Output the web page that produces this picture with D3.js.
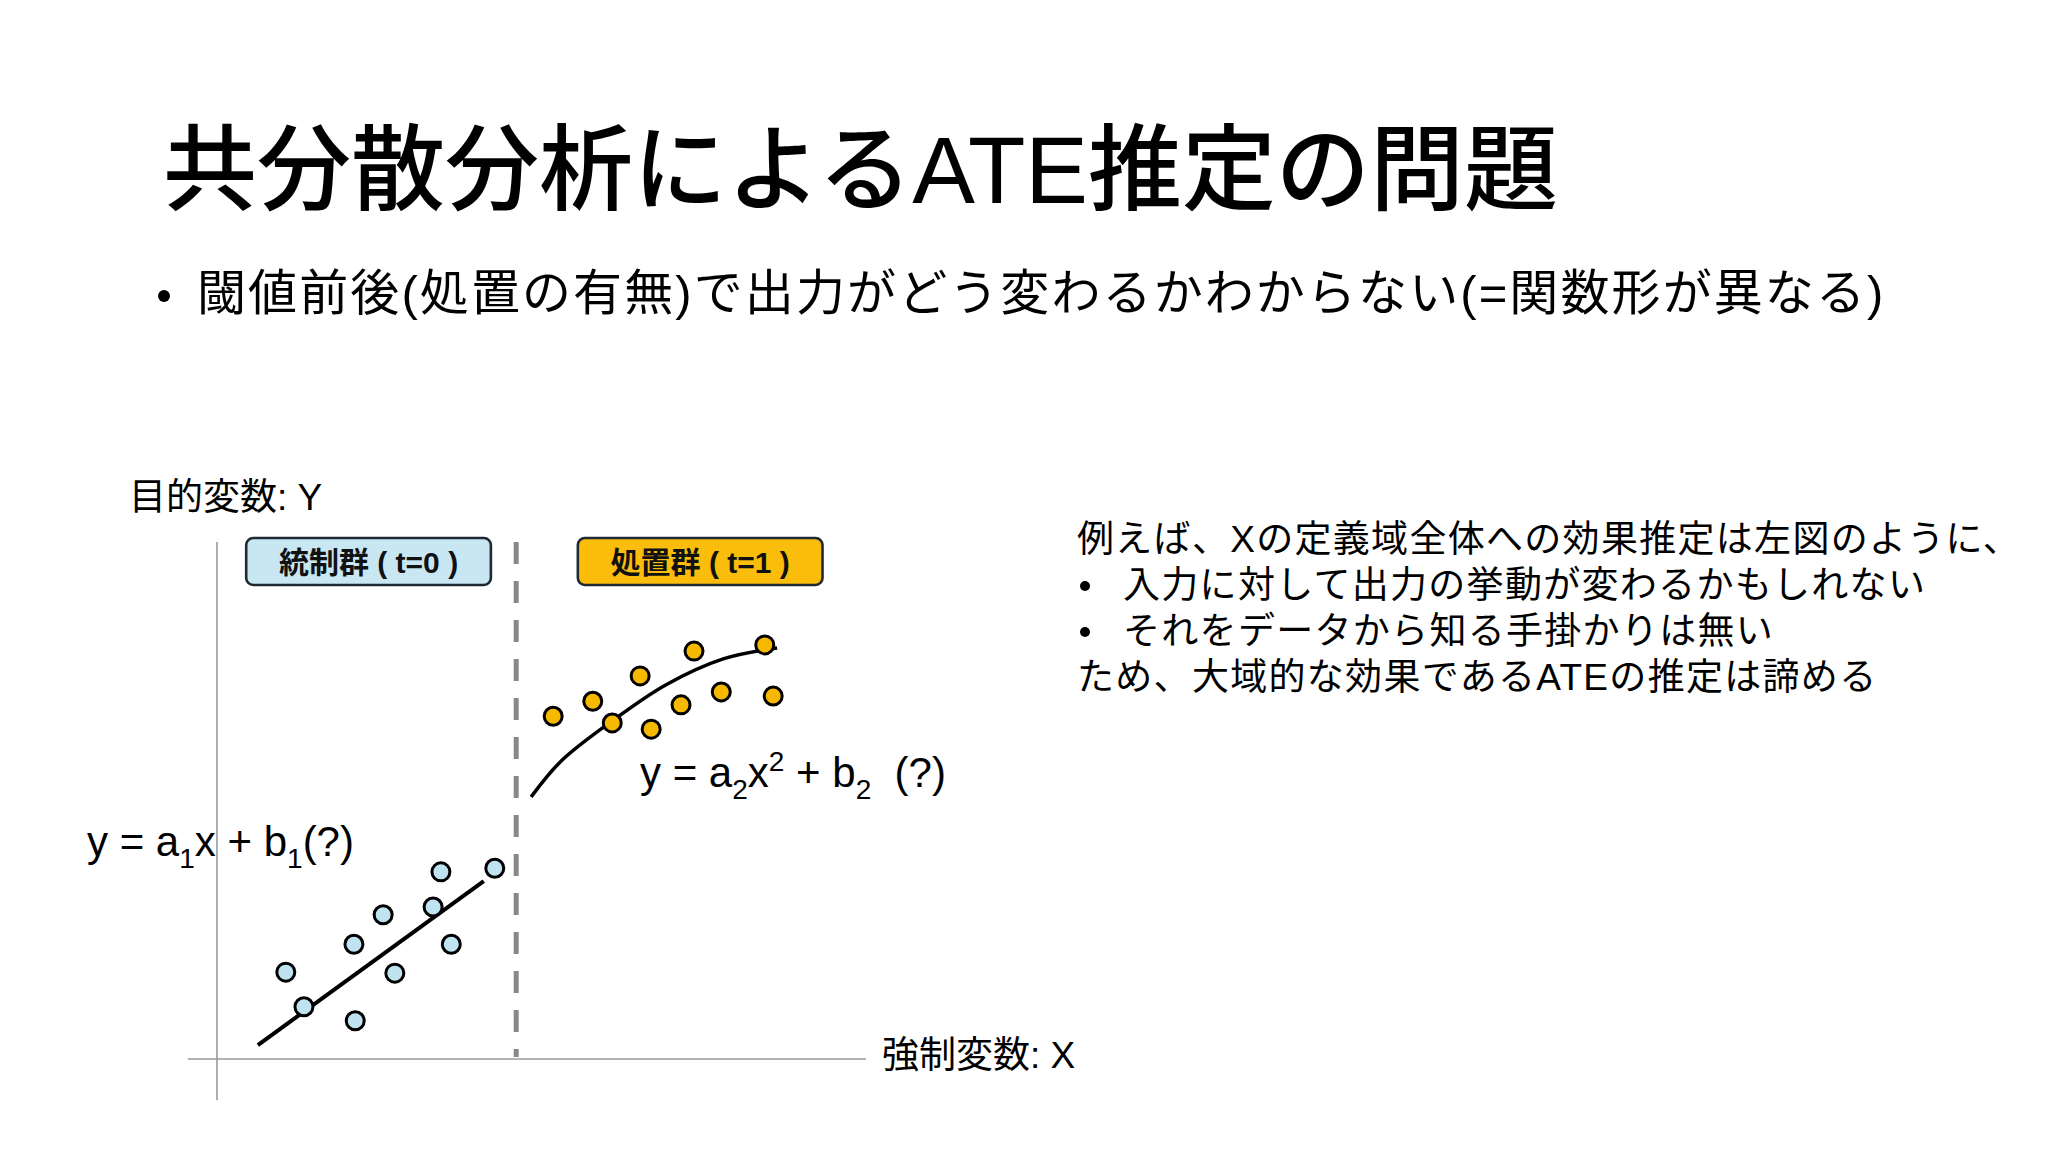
<!DOCTYPE html>
<html>
<head>
<meta charset="utf-8">
<script src="https://cdn.jsdelivr.net/npm/d3@7"></script>
<style>
  html, body { margin: 0; padding: 0; background: #fff; }
  svg text { font-family: "Liberation Sans", "Noto Sans CJK JP", sans-serif; }
</style>
</head>
<body>
<div id="chart"></div>
<script>
// data (arbitrary units, 0-100 on both axes)
const controlX = [10.6, 13.4, 21.1, 21.3, 25.6, 27.4, 33.3, 34.5, 36.1, 42.8];
const controlY = [16.8, 10.1, 22.2, 7.4, 27.9, 16.6, 29.4, 36.2, 22.2, 36.9];
const treatX = [51.8, 57.9, 60.9, 65.2, 66.9, 71.5, 73.5, 77.7, 84.4, 85.7];
const treatY = [66.3, 69.2, 65.0, 74.1, 63.8, 68.5, 78.9, 71.0, 80.1, 70.2];
const threshold = 46.1;
// fitted lines as drawn
const lineX = [6.3, 41.1];
const lineY = [2.7, 34.4];
const curveX = [48.4, 53.0, 60.9, 69.2, 78.0, 86.3];
const curveY = [50.7, 57.6, 65.4, 72.4, 77.4, 79.5];

const groupLabels = ["統制群 ( t=0 )", "処置群 ( t=1 )"];
const title = "共分散分析によるATE推定の問題";
const bullet = "閾値前後(処置の有無)で出力がどう変わるかわからない(=関数形が異なる)";
const noteLines = [
  "例えば、Xの定義域全体への効果推定は左図のように、",
  "入力に対して出力の挙動が変わるかもしれない",
  "それをデータから知る手掛かりは無い",
  "ため、大域的な効果であるATEの推定は諦める"
];
const noteBullet = [false, true, true, false];

const svgWidth = 2048;
const svgHeight = 1152;

const svg = d3.select("#chart")
  .append("svg")
  .attr("width", svgWidth)
  .attr("height", svgHeight);

// title + bullet
svg.append("text")
  .attr("x", 163)
  .attr("y", 203)
  .style("font-size", "94px")
  .style("font-weight", "500")
  .attr("fill", "#000")
  .text(title);

svg.append("circle")
  .attr("cx", 164).attr("cy", 296).attr("r", 6)
  .attr("fill", "#000");
svg.append("text")
  .attr("x", 197)
  .attr("y", 310)
  .style("font-size", "49px")
  .style("letter-spacing", "2.1px")
  .text(bullet);

// scales
const xScale = d3.scaleLinear().domain([0, 100]).range([217, 866]);
const yScale = d3.scaleLinear().domain([0, 100]).range([1059, 542]);

const chartGroup = svg.append("g");

// axes (crossing lines)
chartGroup.append("line")
  .attr("x1", xScale(0)).attr("x2", xScale(0))
  .attr("y1", yScale(100)).attr("y2", yScale(-8))
  .attr("stroke", "#9a9a9a").attr("stroke-width", 1.6);
chartGroup.append("line")
  .attr("x1", xScale(-4.5)).attr("x2", xScale(100))
  .attr("y1", yScale(0)).attr("y2", yScale(0))
  .attr("stroke", "#9a9a9a").attr("stroke-width", 1.6);

// threshold
chartGroup.append("line")
  .attr("x1", xScale(threshold)).attr("x2", xScale(threshold))
  .attr("y1", yScale(100)).attr("y2", yScale(0.4))
  .attr("stroke", "#888").attr("stroke-width", 5)
  .attr("stroke-dasharray", "22,17");

// axis labels
chartGroup.append("text")
  .attr("x", 129).attr("y", 510)
  .style("font-size", "37px")
  .text("目的変数: Y");
chartGroup.append("text")
  .attr("x", 882).attr("y", 1068)
  .style("font-size", "37px")
  .text("強制変数: X");

// group boxes
const boxes = [
  {x0: 4.5, x1: 42.2, fill: "#c9e7f3"},
  {x0: 55.6, x1: 93.3, fill: "#fbbd0b"}
];
boxes.forEach((b, i) => {
  const bx = xScale(b.x0), bw = xScale(b.x1) - xScale(b.x0);
  chartGroup.append("rect")
    .attr("x", bx).attr("y", 538)
    .attr("width", bw).attr("height", 47)
    .attr("rx", 7)
    .attr("fill", b.fill)
    .attr("stroke", "#1e2a33").attr("stroke-width", 2.6);
  chartGroup.append("text")
    .attr("x", bx + bw / 2).attr("y", 573)
    .attr("text-anchor", "middle")
    .style("font-size", "30px")
    .style("font-weight", "bold")
    .attr("fill", "#111")
    .text(groupLabels[i]);
});

// fitted line / curve
const line = d3.line()
  .x(d => xScale(d[0]))
  .y(d => yScale(d[1]));
chartGroup.append("path")
  .attr("d", line(lineX.map((x, i) => [x, lineY[i]])))
  .attr("fill", "none").attr("stroke", "#000").attr("stroke-width", 4);
chartGroup.append("path")
  .attr("d", line.curve(d3.curveCatmullRom)(curveX.map((x, i) => [x, curveY[i]])))
  .attr("fill", "none").attr("stroke", "#000").attr("stroke-width", 3.5);

// points
chartGroup.selectAll(".ctrl")
  .data(controlX.map((x, i) => [x, controlY[i]]))
  .enter()
  .append("circle")
  .attr("class", "ctrl")
  .attr("cx", d => xScale(d[0]))
  .attr("cy", d => yScale(d[1]))
  .attr("r", 9)
  .attr("fill", "#bfe3f0")
  .attr("stroke", "#000").attr("stroke-width", 3);

chartGroup.selectAll(".trt")
  .data(treatX.map((x, i) => [x, treatY[i]]))
  .enter()
  .append("circle")
  .attr("class", "trt")
  .attr("cx", d => xScale(d[0]))
  .attr("cy", d => yScale(d[1]))
  .attr("r", 9)
  .attr("fill", "#f7b900")
  .attr("stroke", "#000").attr("stroke-width", 3);

// equations
function eq(x, y, parts) {
  const t = chartGroup.append("text")
    .attr("x", x).attr("y", y)
    .style("font-size", "42px")
    .style("white-space", "pre");
  let shift = 0;
  parts.forEach(p => {
    const target = p.sub ? 12 : p.sup ? -16 : 0;
    t.append("tspan")
      .attr("dy", target - shift)
      .style("font-size", p.sub || p.sup ? "28px" : "42px")
      .text(p.t);
    shift = target;
  });
}
eq(87, 856, [
  {t: "y = a"}, {t: "1", sub: true}, {t: "x + b"}, {t: "1", sub: true}, {t: "(?)"}
]);
eq(640, 787, [
  {t: "y = a"}, {t: "2", sub: true}, {t: "x"}, {t: "2", sup: true}, {t: " + b"}, {t: "2", sub: true}, {t: "  (?)"}
]);

// notes on the right
noteLines.forEach((s, i) => {
  const y = 552 + i * 46;
  if (noteBullet[i]) {
    svg.append("circle").attr("cx", 1085).attr("cy", y - 12).attr("r", 5).attr("fill", "#000");
    svg.append("text").attr("x", 1123).attr("y", y)
      .style("font-size", "37px").style("letter-spacing", "1.3px").text(s);
  } else {
    svg.append("text").attr("x", 1077).attr("y", y)
      .style("font-size", "37px").style("letter-spacing", "1.3px").text(s);
  }
});
</script>
</body>
</html>
